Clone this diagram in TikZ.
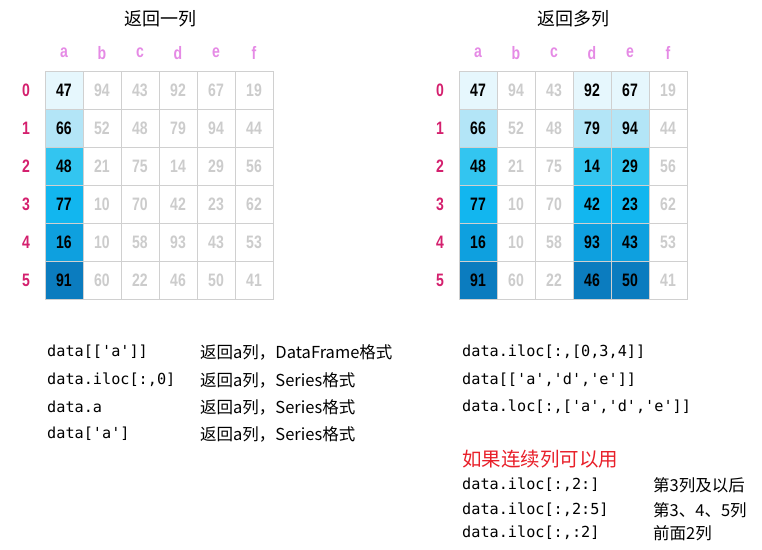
\documentclass[tikz,border=0pt]{standalone}
\usepackage{fontspec}
\setmainfont{Liberation Sans}
\newfontfamily\cjk{Noto Sans CJK SC}
\newfontfamily\mono{DejaVu Sans Mono}
\newfontfamily\num[FakeStretch=0.78]{Liberation Sans}
\definecolor{c0}{HTML}{E6F7FD}
\definecolor{c1}{HTML}{B3E5F7}
\definecolor{c2}{HTML}{33C5F0}
\definecolor{c3}{HTML}{12B6EF}
\definecolor{c4}{HTML}{0EA0DF}
\definecolor{c5}{HTML}{0B7CBF}
\definecolor{gridc}{HTML}{D0D0D0}
\definecolor{numg}{HTML}{CCCCCC}
\definecolor{colc}{HTML}{E58AE5}
\definecolor{rowc}{HTML}{D4206E}
\definecolor{redc}{HTML}{E8202A}
\tikzset{
 cell/.style={draw=gridc,line width=0.6pt,minimum width=38pt,minimum height=38pt,inner sep=0pt,font=\num\bfseries\fontsize{18}{18}\selectfont},
 off/.style={cell,text=numg},
 on/.style={cell,text=black},
 colh/.style={font=\num\bfseries\fontsize{18}{18}\selectfont,text=colc},
 rowh/.style={font=\num\bfseries\fontsize{18}{18}\selectfont,text=rowc},
 ttl/.style={font=\cjk\fontsize{18}{18}\selectfont},
 code/.style={anchor=west,inner sep=0pt,font=\mono\fontsize{15.2}{15.2}\selectfont},
 desc/.style={anchor=west,inner sep=0pt,font=\cjk\fontsize{16.5}{16.5}\selectfont},
}
\begin{document}
\begin{tikzpicture}[x=1pt,y=-1pt]
\useasboundingbox (0,0) rectangle (762,549);
\def\vals{{{47,94,43,92,67,19},{66,52,48,79,94,44},{48,21,75,14,29,56},{77,10,70,42,23,62},{16,10,58,93,43,53},{91,60,22,46,50,41}}}
\foreach \g/\ox/\hl in {L/45/{0},R/459/{0,3,4}}{
 \foreach \r in {0,...,5}{
  \foreach \c in {0,...,5}{
   \pgfmathtruncatemacro\v{\vals[\r][\c]}
   \def\st{off}\def\fc{white}
   \foreach \h in \hl {\ifnum\h=\c\relax\global\def\isOn{1}\fi}
   \ifdefined\isOn\def\st{on}\def\fc{c\r}\fi
   \global\let\isOn\undefined
   \node[\st,fill=\fc] (\g-\r-\c) at (\ox+19+38*\c,71+19+38*\r) {\v};
  }
  \node[rowh] (\g-row\r) at (\ox-19,71+19+38*\r) {\r};
 }
 \foreach \l [count=\c from 0] in {a,b,c,d,e,f}
  \node[colh] (\g-col\c) at (\ox+19+38*\c,53) {\l};
}
\node[ttl] (tl) at (160,19) {返回一列};
\node[ttl] (tr) at (573,19) {返回多列};
\node[code] (l1) at (47,352) {data[['a']]};
\node[code] (l2) at (47,380) {data.iloc[:,0]};
\node[code] (l3) at (47,407) {data.a};
\node[code] (l4) at (47,434) {data['a']};
\node[desc] (d1) at (200,352) {返回a列，DataFrame格式};
\node[desc] (d2) at (200,380) {返回a列，Series格式};
\node[desc] (d3) at (200,407) {返回a列，Series格式};
\node[desc] (d4) at (200,434) {返回a列，Series格式};
\node[code] (r1) at (462,352) {data.iloc[:,[0,3,4]]};
\node[code] (r2) at (462,380) {data[['a','d','e']]};
\node[code] (r3) at (462,407) {data.loc[:,['a','d','e']]};
\node[desc,text=redc,font=\cjk\fontsize{19.5}{19.5}\selectfont] (red) at (462,459) {如果连续列可以用};
\node[code] (s1) at (462,485) {data.iloc[:,2:]};
\node[code] (s2) at (462,510) {data.iloc[:,2:5]};
\node[code] (s3) at (462,533) {data.iloc[:,:2]};
\node[desc] (e1) at (653,485) {第3列及以后};
\node[desc] (e2) at (653,510) {第3、4、5列};
\node[desc] (e3) at (653,533) {前面2列};
\end{tikzpicture}
\end{document}
